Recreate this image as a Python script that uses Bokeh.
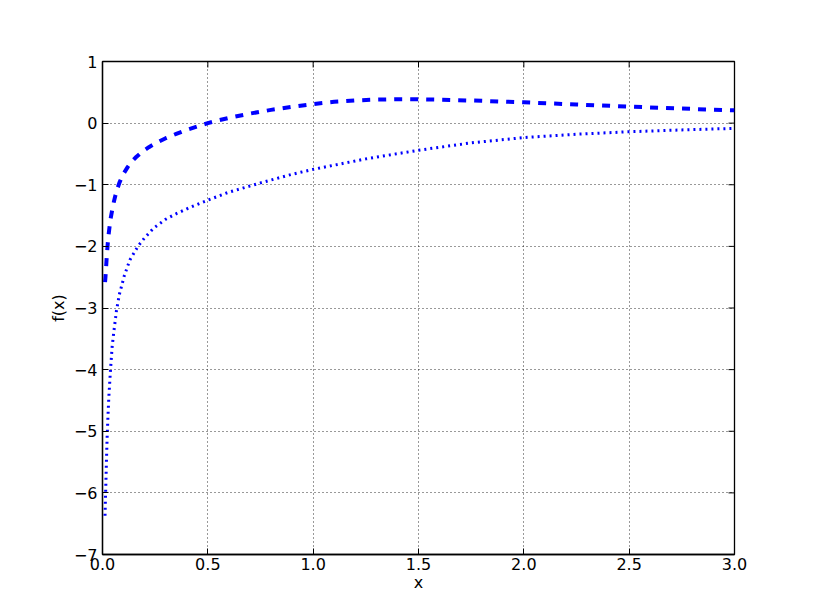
import math
from bokeh.plotting import figure
from bokeh.models import Range1d, FixedTicker
from bokeh.embed import file_html
from bokeh.resources import INLINE

# ---- data ----
dashed_x = [0.012, 0.014, 0.016, 0.019, 0.022, 0.025, 0.03, 0.035, 0.04, 0.046,
            0.053, 0.06, 0.07, 0.08, 0.09, 0.1, 0.12, 0.14, 0.16, 0.19, 0.22,
            0.25, 0.3, 0.35, 0.4, 0.45, 0.5, 0.55, 0.6, 0.7, 0.8, 0.9, 1.0,
            1.1, 1.2, 1.3, 1.4, 1.5, 1.6, 1.8, 2.0, 2.25, 2.5, 2.75, 3.0]
dashed_y = [-2.58, -2.5, -2.4, -2.23, -2.08, -1.95, -1.78, -1.64, -1.52, -1.41,
            -1.29, -1.19, -1.07, -0.97, -0.89, -0.82, -0.71, -0.62, -0.55, -0.46, -0.39,
            -0.33, -0.245, -0.175, -0.11, -0.055, 0.0, 0.045, 0.085, 0.155, 0.215, 0.265, 0.31,
            0.345, 0.368, 0.382, 0.388, 0.387, 0.381, 0.362, 0.337, 0.302, 0.268, 0.236, 0.207]

dotted_x = [0.012, 0.014, 0.016, 0.019, 0.022, 0.026, 0.03, 0.038, 0.046, 0.054,
            0.066, 0.08, 0.104, 0.13, 0.168, 0.2, 0.244, 0.3, 0.35, 0.42, 0.5,
            0.6, 0.75, 0.9, 1.0, 1.25, 1.5, 1.75, 2.0, 2.25, 2.5, 2.75, 3.0]
dotted_y = [-6.37, -6.1, -5.85, -5.45, -5.1, -4.75, -4.45, -4.0, -3.62, -3.38,
            -3.05, -2.78, -2.47, -2.22, -2.0, -1.86, -1.7, -1.56, -1.47, -1.36, -1.25,
            -1.12, -0.97, -0.83, -0.75, -0.58, -0.44, -0.32, -0.235, -0.18, -0.14, -0.11, -0.085]

x_ticks = [0.0, 0.5, 1.0, 1.5, 2.0, 2.5, 3.0]
x_tick_labels = ["0.0", "0.5", "1.0", "1.5", "2.0", "2.5", "3.0"]
y_ticks = [-7, -6, -5, -4, -3, -2, -1, 0, 1]
y_tick_labels = ["\u22127", "\u22126", "\u22125", "\u22124", "\u22123", "\u22122", "\u22121", "0", "1"]

FONT = "DejaVu Sans"
FS = "16px"
TICK = 6

p = figure(width=799, height=607, x_range=Range1d(x_ticks[0], x_ticks[-1]),
           y_range=Range1d(y_ticks[0], y_ticks[-1]),
           output_backend="svg", toolbar_location=None,
           min_border_left=102, min_border_right=65, min_border_top=61, min_border_bottom=53)
p.background_fill_color = "white"
p.border_fill_color = "white"
p.outline_line_color = "black"
p.outline_line_width = 1.3

p.xaxis.ticker = FixedTicker(ticks=x_ticks)
p.yaxis.ticker = FixedTicker(ticks=y_ticks)
p.xaxis.major_label_overrides = {t: l for t, l in zip(x_ticks, x_tick_labels)}
p.yaxis.major_label_overrides = {t: l for t, l in zip(y_ticks, y_tick_labels)}
p.xaxis.axis_label = "x"
p.yaxis.axis_label = "f(x)"

for ax in (p.xaxis[0], p.yaxis[0]):
    ax.major_tick_in = TICK
    ax.major_tick_out = 0
    ax.minor_tick_in = 0
    ax.minor_tick_out = 0
    ax.major_tick_line_color = "black"
    ax.axis_line_color = "black"
    ax.axis_line_width = 1.3
    ax.major_label_text_font = FONT
    ax.major_label_text_font_size = FS
    ax.major_label_text_color = "black"
    ax.axis_label_text_font = FONT
    ax.axis_label_text_font_size = FS
    ax.axis_label_text_font_style = "normal"
    ax.axis_label_text_color = "black"
p.xaxis.major_label_standoff = 3
p.xaxis.axis_label_standoff = 0
p.yaxis.major_label_standoff = 5
p.yaxis.axis_label_standoff = 3

# inward ticks on the top and right edges of the frame
p.ray(x=x_ticks, y=[y_ticks[-1]] * len(x_ticks), length=TICK, length_units="screen",
      angle=-math.pi / 2, line_color="black", line_width=1)
p.ray(x=[x_ticks[-1]] * len(y_ticks), y=y_ticks, length=TICK, length_units="screen",
      angle=math.pi, line_color="black", line_width=1)

p.xgrid[0].ticker = FixedTicker(ticks=x_ticks)
p.ygrid[0].ticker = FixedTicker(ticks=y_ticks)
for g in (p.xgrid[0], p.ygrid[0]):
    g.grid_line_color = "black"
    g.grid_line_alpha = 0.8
    g.grid_line_width = 1
    g.grid_line_dash = "1 3"

p.line(dashed_x, dashed_y, line_color="#0000ff", line_width=4, line_dash="8 8")
p.line(dotted_x, dotted_y, line_color="#0000ff", line_width=3, line_dash="2 4")

open("out.html", "w").write(file_html(p, INLINE))
